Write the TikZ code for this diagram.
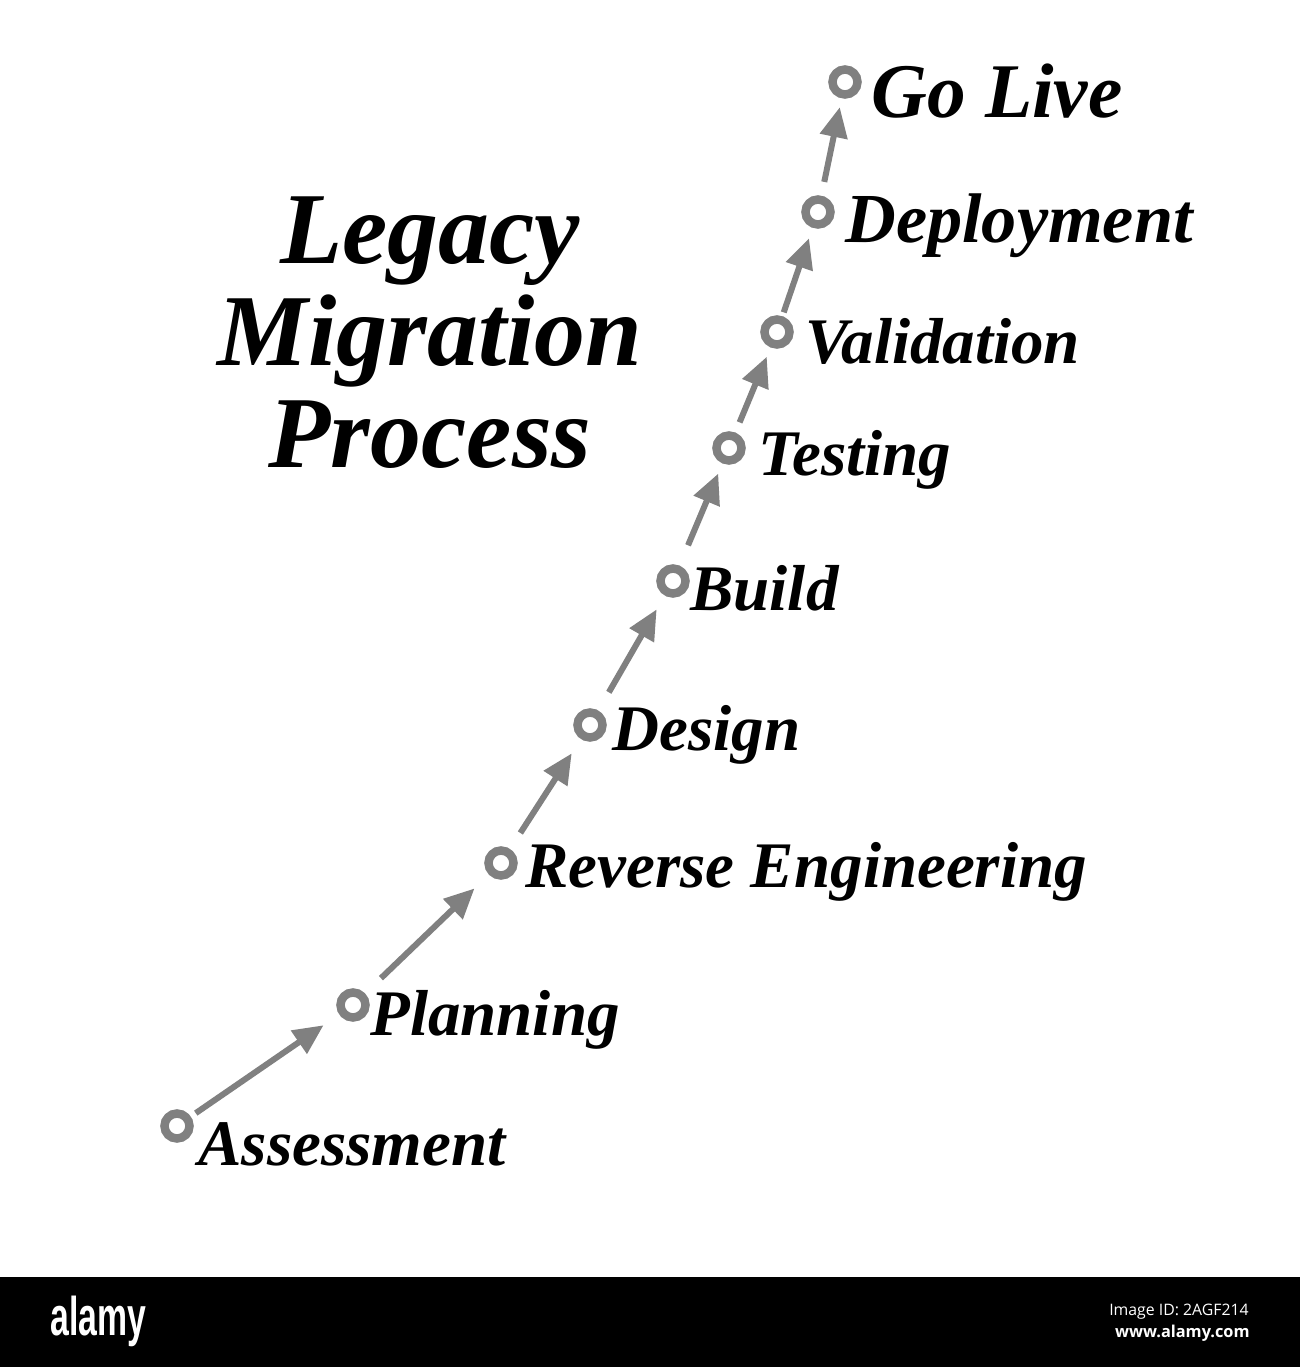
\documentclass[tikz,border=0pt]{standalone}
\usepackage{graphicx}
\usepackage{fontspec}
\setmainfont{Liberation Serif}
\newfontfamily\sitefont{Open Sans}
\newfontfamily\logofont{Liberation Sans}
\usetikzlibrary{arrows.meta}

\begin{document}
\begin{tikzpicture}[x=0.02cm,y=-0.02cm,
    stepdot/.style={circle,draw=gray,line width=0.17cm,inner sep=0pt,minimum size=0.5cm},
    steparrow/.style={draw=gray,line width=0.12cm,-{Triangle[length=0.6cm,width=0.54cm]}},
    steplabel/.style={anchor=base west,inner sep=0pt,font=\fontsize{37}{40}\selectfont\bfseries\itshape}]

    % page and margins
    \useasboundingbox (0,0) rectangle (1300,1367);
    \fill[white] (0,0) rectangle (1300,1367);

    % title
    \node[font=\fontsize{58}{58}\selectfont\bfseries\itshape,align=center,anchor=base,inner sep=0pt] (title) at (430,467) {Legacy\\Migration\\Process};

    % draw steps
    \node[stepdot] (assess) at (177,1126) {};
    \node[stepdot] (plan) at (353,1005) {};
    \node[stepdot] (reverse) at (501,863) {};
    \node[stepdot] (design) at (590,725) {};
    \node[stepdot] (build) at (673,581) {};
    \node[stepdot] (testing) at (729,448) {};
    \node[stepdot] (valid) at (777,332) {};
    \node[stepdot] (deploy) at (818,212) {};
    \node[stepdot] (golive) at (845,82) {};

    % draw labels
    \node[steplabel] (assesslbl) at (198,1165) {Assessment};
    \node[steplabel] (planlbl) at (370,1035) {Planning};
    \node[steplabel] (reverselbl) at (525,887) {Reverse Engineering};
    \node[steplabel] (designlbl) at (612,750) {Design};
    \node[steplabel] (buildlbl) at (690,610) {Build};
    \node[steplabel] (testinglbl) at (758,475) {Testing};
    \node[steplabel] (validlbl) at (805,363) {Validation};
    \node[steplabel,font=\fontsize{40}{43}\selectfont\bfseries\itshape] (deploylbl) at (845,242) {Deployment};
    \node[steplabel,font=\fontsize{44}{47}\selectfont\bfseries\itshape] (golivelbl) at (871,117) {Go Live};

    % draw arrows
    \draw[steparrow,shorten <=0.12cm,shorten >=0.38cm] (assess) -- (plan);
    \draw[steparrow,shorten <=0.44cm,shorten >=0.40cm] (plan) -- (reverse);
    \draw[steparrow,shorten <=0.38cm,shorten >=0.34cm] (reverse) -- (design);
    \draw[steparrow,shorten <=0.42cm,shorten >=0.32cm] (design) -- (build);
    \draw[steparrow,shorten <=0.44cm,shorten >=0.22cm] (build) -- (testing);
    \draw[steparrow,shorten <=0.22cm,shorten >=0.20cm] (testing) -- (valid);
    \draw[steparrow,shorten <=0.08cm,shorten >=0.22cm] (valid) -- (deploy);
    \draw[steparrow,shorten <=0.28cm,shorten >=0.18cm] (deploy) -- (golive);

    % bottom bar
    \fill[black] (0,1277) rectangle (1300,1367);
    \node[anchor=base west,inner sep=0pt,text=white,font=\fontsize{31}{31}\logofont\bfseries] (logo) at (50,1335) {\scalebox{0.62}[1]{alamy}};
    \node[anchor=base east,inner sep=0pt,text=white,font=\fontsize{9}{10}\sitefont] (imgid) at (1249,1315) {Image ID: 2AGF214};
    \node[anchor=base east,inner sep=0pt,text=white,font=\fontsize{9.3}{10}\sitefont\bfseries] (site) at (1250,1337) {www.alamy.com};
\end{tikzpicture}
\end{document}
